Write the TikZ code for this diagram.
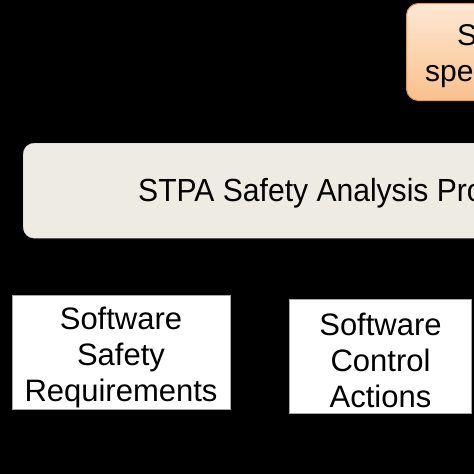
\documentclass[tikz,border=0pt]{standalone}
\usepackage{fontspec}
\setmainfont{Liberation Sans}
\newfontfamily\barfont[FakeStretch=0.94]{Liberation Sans}
\definecolor{barfill}{RGB}{238,235,226}
\definecolor{spectop}{RGB}{254,232,212}
\definecolor{specbottom}{RGB}{249,192,140}
\definecolor{specline}{RGB}{232,150,80}
\begin{document}
\begin{tikzpicture}[x=1pt,y=-1pt,
  out node/.style={rectangle,draw=gray!70,line width=0.8pt,fill=white,inner sep=0pt,minimum height=114pt},
  out text/.style={align=center,inner sep=0pt,font=\fontsize{31}{36}\selectfont},
  word/.style={anchor=base west,inner sep=0pt,font=\fontsize{30}{35}\selectfont}]

  \useasboundingbox (0,0) rectangle (474,474);
  \fill[black] (0,0) rectangle (474,474);
  \clip (0,0) rectangle (474,474);

  % specification box (cut by the right edge)
  \node[rectangle,rounded corners=12pt,draw=specline,line width=1pt,top color=spectop,bottom color=specbottom,
    minimum width=120pt,minimum height=97pt,anchor=north west] (spec) at (406,3) {};
  \node[word] (specA) at (457,45) {S};
  \node[word] (specB) at (425,81) {spe};

  % analysis bar
  \node[rectangle,rounded corners=11pt,draw=gray!40,fill=barfill,
    minimum width=520pt,minimum height=95pt,anchor=north west] (stpa) at (23,143) {};
  \node[word,font=\barfont\fontsize{32}{38}\selectfont] (stpatext) at (138,201) {STPA Safety Analysis Pro};

  % outputs
  \node[out node,minimum width=218pt] (req) at (121,352) {};
  \node[out node,minimum width=182pt] (act) at (380.5,356) {};
  \node[out text] (reqtext) at ([yshift=-5pt]req.center) {Software\\Safety\\Requirements};
  \node[out text] (acttext) at ([yshift=-4pt]act.center) {Software\\Control\\Actions};
\end{tikzpicture}
\end{document}
